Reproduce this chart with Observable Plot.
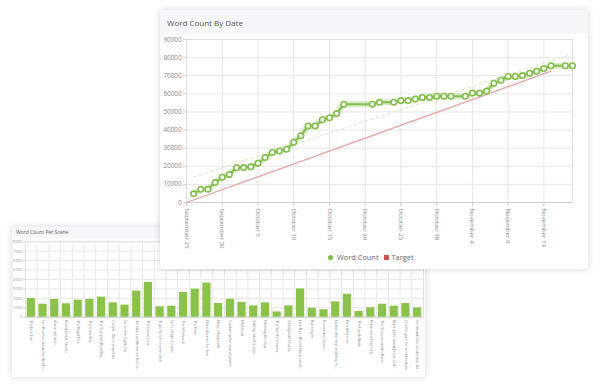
<!DOCTYPE html>
<html><head><meta charset="utf-8">
<script src="https://cdn.jsdelivr.net/npm/d3@7"></script>
<script src="https://cdn.jsdelivr.net/npm/@observablehq/plot@0.6"></script>
<style>
body{margin:0;background:#fff;width:600px;height:392px;overflow:hidden;position:relative;font-family:"Open Sans",sans-serif;}
.card{position:absolute;background:#fff;border-radius:3px;box-shadow:0 0 7px rgba(0,0,0,0.16);overflow:hidden;}
.hdr{background:#f6f7f9;color:#555;white-space:nowrap;}
.card svg{display:block;}
#legend{position:absolute;left:168px;top:242px;font-size:7.4px;color:#666;display:flex;align-items:center;white-space:nowrap;}
#legend .dot{width:5px;height:5px;border-radius:50%;background:#7fbb45;margin-right:4px;}
#legend .sq{width:5px;height:5px;background:#c9524f;margin:0 3px 0 5px;}
</style></head><body>
<div class="card" style="left:12px;top:227px;width:413px;height:150px;z-index:1;">
  <div class="hdr" style="height:11px;font-size:5px;line-height:11px;padding-left:4px;">Word Count Per Scene</div>
  <div id="c2"></div>
</div>
<div class="card" style="left:160px;top:10px;width:428px;height:259px;z-index:2;">
  <div class="hdr" style="height:24px;font-size:8px;line-height:25px;padding-left:7px;">Word Count By Date</div>
  <div id="c1"></div>
  <div id="legend"><span class="dot"></span>Word Count<span class="sq"></span>Target</div>
</div>
<script>
// ---- Word count by date ----
const dates = ["2017-09-26","2017-09-27","2017-09-28","2017-09-29","2017-09-30","2017-10-01","2017-10-02","2017-10-03","2017-10-04","2017-10-05","2017-10-06","2017-10-07","2017-10-08","2017-10-09","2017-10-10","2017-10-11","2017-10-12","2017-10-13","2017-10-14","2017-10-15","2017-10-16","2017-10-17","2017-10-21","2017-10-22","2017-10-24","2017-10-25","2017-10-26","2017-10-27","2017-10-28","2017-10-29","2017-10-30","2017-10-31","2017-11-01","2017-11-03","2017-11-04","2017-11-05","2017-11-06","2017-11-07","2017-11-08","2017-11-09","2017-11-10","2017-11-11","2017-11-12","2017-11-13","2017-11-14","2017-11-15","2017-11-17","2017-11-18"];
const wordCounts = [4800,7300,7300,11000,14000,15500,19200,19300,19700,21700,24800,27600,28500,29400,33300,36800,42300,42300,45700,46800,49100,54300,54300,55300,55400,56300,56300,57200,58000,58000,58700,58700,58700,58700,60400,60400,61500,65900,67500,69600,69600,70100,71400,72500,74000,75500,75500,75500];
const targetDates = ["2017-09-25","2017-11-15"];
const targetValues = [0,72500];
const trendDates = ["2017-09-26","2017-11-18"];
const trendValues = [14000,82000];
const dateTicks = ["2017-09-25","2017-09-30","2017-10-05","2017-10-10","2017-10-15","2017-10-20","2017-10-25","2017-10-30","2017-11-04","2017-11-09","2017-11-14"];
const dateDomain = ["2017-09-25","2017-11-18"];
const countTicks = [0,10000,20000,30000,40000,50000,60000,70000,80000,90000];

// ---- Word count per scene ----
const scenes = ["The Jack Fair","Ian Thomas about the dead ri...","Alone at Cabin","Blood Globe Stones","The Night Fire","The Guardian","The Scorpion Beat Box","Carlyle - Do a shoplifter","Ian in the night clip","Terrible conditions on the ra...","The Great Cave","Truck to Ian's home land","Ian's village in ruins","The Whirlpool","The Dam","More doctors for Ann","More afterwards","Capturing the ship of jewels","Mid Point","Setting into the ship","Meeting the ship","The Spirit Compass","Sailing with Charlie","Jake Ray - Blood Stones and...","Running In","Encounter Chasm","Lu Bari the ship and they m...","Beautiful man","The Landa Note","Rune refuses to help","The Ship persuades Rune","Rune talks about Jessie and...","Charlie goes for an ultimatum","Ian doubts her leadership abi..."];
const sceneWords = [1990,1380,1880,1420,1810,1880,2130,1520,1280,2770,3690,1100,1170,2630,2980,3620,1460,1900,1560,1200,1520,560,1200,3000,960,790,1620,2440,610,1000,1380,1170,1460,990];
const sceneTicks = [0,1000,2000,3000,4000,5000,6000,7000,8000];

const D = s => new Date(s);
const words = dates.map((d,i)=>({date:D(d), value:wordCounts[i]}));
const target = targetDates.map((d,i)=>({date:D(d), value:targetValues[i]}));
const trend = trendDates.map((d,i)=>({date:D(d), value:trendValues[i]}));
const green = "#84be4c";

const c1 = Plot.plot({
  width:428, height:222, marginLeft:26, marginRight:16, marginTop:5, marginBottom:54,
  style:{fontFamily:"Open Sans, sans-serif", background:"transparent"},
  x:{type:"utc", domain:dateDomain.map(D)},
  y:{domain:[0,90000]},
  marks:[
    Plot.gridY(countTicks,{stroke:"#e6e6e6", strokeOpacity:1}),
    Plot.gridX(dateTicks.map(D),{stroke:"#e6e6e6", strokeOpacity:1}),
    Plot.frame({stroke:"#dedede"}),
    Plot.ruleY([0],{stroke:"#cfcfcf"}),
    Plot.axisY(countTicks,{tickFormat:"d", tickSize:3, tickPadding:2, fontSize:6.3, fill:"#888", stroke:"#ccc", label:null}),
    Plot.axisX(dateTicks.map(D),{tickFormat:d3.utcFormat("%B %-d"), tickRotate:90, tickSize:4, tickPadding:2, fontSize:6.1, fill:"#888", stroke:"#ccc", label:null}),
    Plot.line(target,{x:"date", y:"value", stroke:"#e8a7a5", strokeWidth:1.3}),
    Plot.line(trend,{x:"date", y:"value", stroke:"#d6e9c0", strokeWidth:1, strokeDasharray:"3,3"}),
    Plot.line(words,{x:"date", y:"value", stroke:green, strokeOpacity:0.3, strokeWidth:6}),
    Plot.line(words,{x:"date", y:"value", stroke:green, strokeWidth:2}),
    Plot.dot(words,{x:"date", y:"value", r:2.7, fill:"white", stroke:green, strokeWidth:1.6})
  ]
});
document.getElementById("c1").append(c1);

const W2 = 413, ML2 = 13, MR2 = 2;
const step = d3.scaleBand().domain(scenes).range([ML2, W2-MR2]).paddingInner(0.3).paddingOuter(0.15).step();
const sceneData = scenes.map((s,i)=>({scene:s, words:sceneWords[i]}));
const c2 = Plot.plot({
  width:W2, height:139, marginLeft:ML2, marginRight:MR2, marginTop:3.3, marginBottom:60.3,
  style:{fontFamily:"Open Sans, sans-serif", background:"transparent"},
  x:{domain:scenes, paddingInner:0.3, paddingOuter:0.15, round:false},
  y:{domain:[0,8000]},
  marks:[
    Plot.gridY(sceneTicks,{stroke:"#e8e8e8", strokeOpacity:1}),
    Plot.ruleX(scenes,{x:d=>d, dx:-step/2, y1:0, y2:8000, insetBottom:-2, stroke:"#e8e8e8"}),
    Plot.frame({stroke:"#e2e2e2"}),
    Plot.ruleY([0],{stroke:"#d0d0d0"}),
    Plot.axisY(sceneTicks,{tickFormat:"d", tickSize:2, tickPadding:1.5, fontSize:4, fill:"#999", stroke:"#ccc", label:null}),
    Plot.axisX({tickSize:0, tickPadding:3, tickRotate:90, fontSize:3.6, fill:"#888", label:null}),
    Plot.barY(sceneData,{x:"scene", y:"words", fill:"#8bc34a"})
  ]
});
document.getElementById("c2").append(c2);
</script>
</body></html>
